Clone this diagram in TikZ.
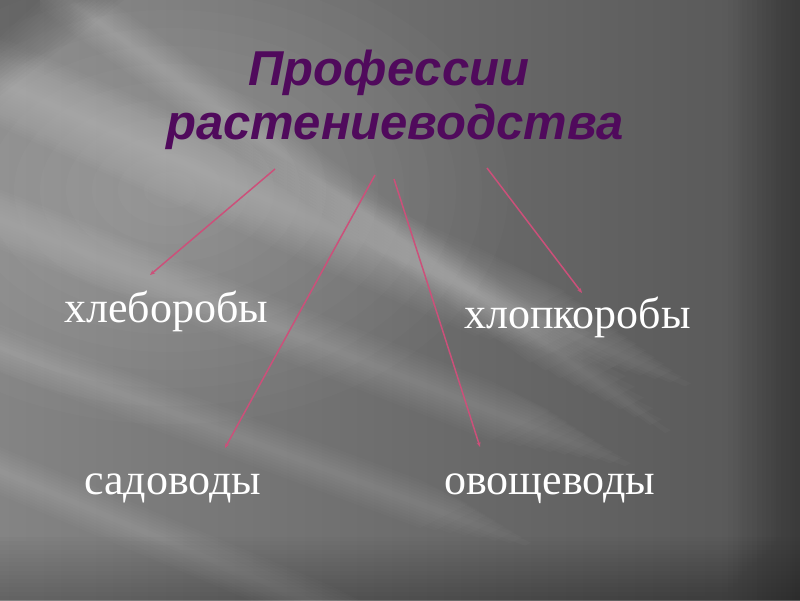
\documentclass[tikz,border=0pt]{standalone}
\usepackage{fontspec}
\setmainfont{Liberation Serif}
\newfontfamily\titlefont{Liberation Sans}
\usetikzlibrary{arrows.meta}
\definecolor{titlepurple}{RGB}{80,10,92}
\definecolor{linkpink}{RGB}{204,80,122}
\definecolor{bgleft}{RGB}{132,132,132}
\definecolor{bgright}{RGB}{86,86,86}
\tikzset{
  titletext/.style={font=\titlefont\bfseries\itshape\fontsize{49}{56}\selectfont, text=titlepurple, inner sep=0pt},
  labeltext/.style={font=\fontsize{44}{50}\selectfont, text=white, inner sep=0pt, anchor=base west},
  link/.style={draw=linkpink, line width=1.5pt, -{Stealth[length=5pt,width=4pt]}},
  glow/.style={fill=white, fill opacity=0.02, draw=none},
  shadow/.style={fill=black, fill opacity=0.015, draw=none}
}
% soft band: #1,#2 = start x,y ; #3 = slope ; #4 = end x ; #5 = max half width
\newcommand{\softband}[5]{%
  \foreach \w in {3,6,...,#5}{%
    \pgfmathsetmacro{\xe}{#4-5*\w}%
    \pgfmathsetmacro{\ye}{#2+#3*(\xe-(#1))}%
    \fill[glow] (#1,#2-\w) -- (\xe,\ye-\w) -- (\xe+2*\w,\ye) -- (\xe,\ye+\w) -- (#1,#2+\w) -- cycle;}}
\begin{document}
\begin{tikzpicture}[x=1pt,y=-1pt]
  \useasboundingbox (0,0) rectangle (800,600);
  % background
  \shade[left color=bgleft, right color=bgright] (0,0) rectangle (800,600);
  \begin{scope}
    \clip (0,0) rectangle (800,600);
    % broad light glow, upper left
    \foreach \r in {20,40,...,260}{
      \fill[glow] (170,190) ellipse ({\r*1.3} and {\r*0.9});
    }
    % diagonal streaks
    \softband{-50}{60}{0.44}{700}{45}
    \softband{40}{-20}{0.72}{680}{30}
    \softband{-50}{200}{0.39}{640}{30}
    \softband{-50}{330}{0.37}{540}{24}
    \softband{-50}{450}{0.42}{450}{24}
    % darker edges
    \foreach \w in {6,12,...,90}{
      \fill[shadow] (0,0) -- (130-\w,0) -- (0,100-\w*0.7) -- cycle;
      \fill[shadow] (800-\w*0.8,0) rectangle (800,600);
      \fill[shadow] (0,600-\w*0.7) rectangle (800,600);
    }
  \end{scope}
  % title
  \node[titletext, anchor=base] (title1) at (389,85) {Профессии};
  \node[titletext, anchor=base] (title2) at (395,139) {растениеводства};
  % labels
  \node[labeltext] (hleb) at (64,322) {хлеборобы};
  \node[labeltext] (hlop) at (464,328) {хлопкоробы};
  \node[labeltext] (sad) at (84,494) {садоводы};
  \node[labeltext] (ovo) at (444,494) {овощеводы};
  % connector ends
  \coordinate (s1) at (275,169);
  \coordinate (e1) at (150,275);
  \coordinate (s2) at (375,175);
  \coordinate (e2) at (225,448);
  \coordinate (s3) at (394,179);
  \coordinate (e3) at (480,447);
  \coordinate (s4) at (487,168);
  \coordinate (e4) at (582,293);
  \draw[link] (s1) -- (e1);
  \draw[link] (s2) -- (e2);
  \draw[link] (s3) -- (e3);
  \draw[link] (s4) -- (e4);
\end{tikzpicture}
\end{document}
